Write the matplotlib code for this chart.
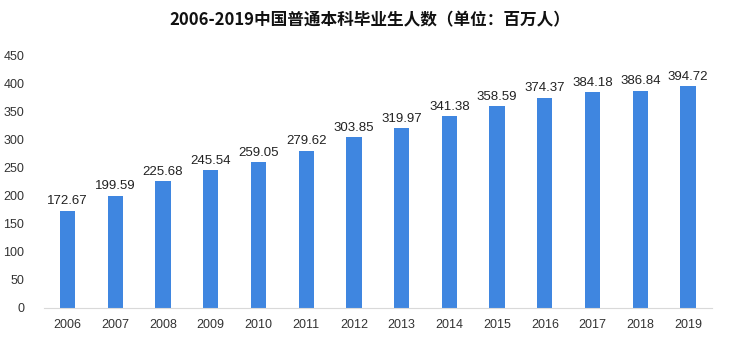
import matplotlib.pyplot as plt

plt.rcParams['font.family'] = ['Liberation Sans', 'Noto Sans CJK SC', 'DejaVu Sans']

years = ["2006", "2007", "2008", "2009", "2010", "2011", "2012",
         "2013", "2014", "2015", "2016", "2017", "2018", "2019"]
graduates = [172.67, 199.59, 225.68, 245.54, 259.05, 279.62, 303.85,
             319.97, 341.38, 358.59, 374.37, 384.18, 386.84, 394.72]
yTicks = [0, 50, 100, 150, 200, 250, 300, 350, 400, 450]

fig = plt.figure(figsize=(7.4, 3.44), dpi=100)
ax = fig.add_axes([0.059, 0.105, 0.903, 0.735])

bars = ax.bar(years, graduates, width=0.32, color="#3f86e0")
for b, v in zip(bars, graduates):
    ax.text(b.get_x() + b.get_width() / 2, v + 6, "%.2f" % v,
            ha="center", va="bottom", fontsize=9.5, color="#222222")

ax.set_ylim(0, 450)
ax.set_xlim(-0.5, len(years) - 0.5)
ax.set_yticks(yTicks)
ax.tick_params(axis="y", length=0, pad=14, labelsize=9, labelcolor="#333333")
ax.tick_params(axis="x", length=0, pad=8, labelsize=9, labelcolor="#333333")
for s in ["top", "right", "left"]:
    ax.spines[s].set_visible(False)
ax.spines["bottom"].set_color("#d9d9d9")

fig.text(0.5, 0.94, "2006-2019中国普通本科毕业生人数（单位：百万人）",
         ha="center", va="center", fontsize=12, fontweight="bold",
         family=['Noto Sans CJK SC', 'DejaVu Sans'], color="#111111")

plt.savefig("out.png", dpi=100)
